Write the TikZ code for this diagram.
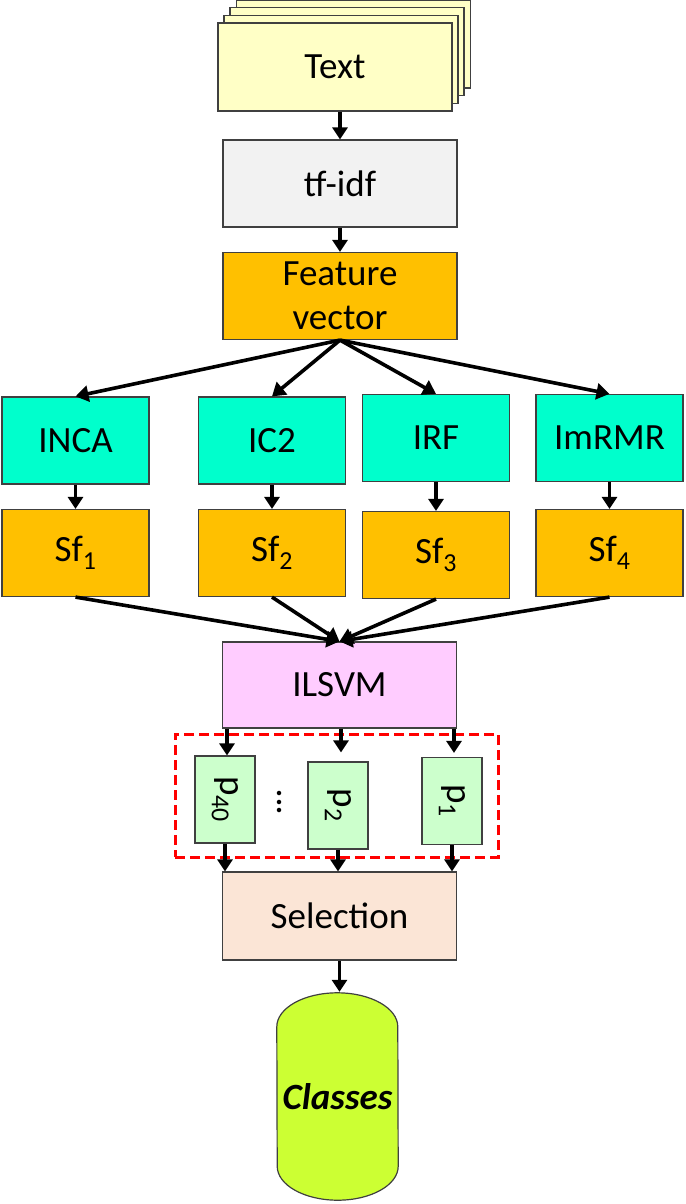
\documentclass[tikz,border=0pt]{standalone}
\usepackage{fontspec}
\usepackage{graphicx}
\setmainfont{Carlito}
\usetikzlibrary{arrows.meta}
\definecolor{cText}{HTML}{FFFFC6}
\definecolor{cTfidf}{HTML}{F2F2F2}
\definecolor{cOrange}{HTML}{FFC000}
\definecolor{cAqua}{HTML}{00FFCC}
\definecolor{cPink}{HTML}{FFCCFF}
\definecolor{cP}{HTML}{CCFFCC}
\definecolor{cSel}{HTML}{FBE5D6}
\definecolor{cClass}{HTML}{CCFF33}
\definecolor{bordergray}{HTML}{404040}
\begin{document}
\begin{tikzpicture}[x=1pt,y=-1pt,
  box/.style={draw=bordergray,line width=1.2pt,minimum width=234pt,minimum height=87pt,inner sep=0pt,font=\fontsize{37}{44}\selectfont,align=center},
  sbox/.style={box,minimum width=147pt},
  pbox/.style={box,fill=cP,minimum width=60pt,minimum height=87pt},
  arr/.style={line width=3.2pt,-{Triangle[width=15pt,length=12pt]}},
  fan/.style={line width=3.6pt,-{Triangle[width=16pt,length=13pt]}},
]
\useasboundingbox (0,0) rectangle (685,1204);
% stacked text documents
\node[box,fill=cText,minimum height=88pt] (text3) at (353.5,44) {};
\node[box,fill=cText,minimum height=88pt] (text2) at (347,51.5) {};
\node[box,fill=cText,minimum height=88pt] (text1) at (341,59.5) {};
\node[box,fill=cText,minimum height=88pt] (text) at (335,67) {Text};
\node[box,fill=cTfidf] (tfidf) at (340,183.5) {tf-idf};
\node[box,fill=cOrange] (fv) at (340,296) {Feature\\vector};
% selectors
\node[sbox,fill=cAqua] (inca) at (75.5,440.5) {INCA};
\node[sbox,fill=cAqua] (ic2) at (272,440.5) {IC2};
\node[sbox,fill=cAqua] (irf) at (436,438) {IRF};
\node[sbox,fill=cAqua] (imrmr) at (609.5,438) {ImRMR};
\node[sbox,fill=cOrange] (sf1) at (75.5,553) {Sf\textsubscript{1}};
\node[sbox,fill=cOrange] (sf2) at (272,553) {Sf\textsubscript{2}};
\node[sbox,fill=cOrange] (sf3) at (436,555) {Sf\textsubscript{3}};
\node[sbox,fill=cOrange] (sf4) at (609.5,553) {Sf\textsubscript{4}};
\node[box,fill=cPink,minimum height=86pt] (ilsvm) at (339.5,685) {ILSVM};
% dashed group
\node[draw=red,line width=3pt,dash pattern=on 10pt off 5pt,minimum width=323pt,minimum height=123pt,inner sep=0pt] (grp) at (336.5,795.5) {};
\node[pbox] (p40) at (225,799.5) {\rotatebox{-90}{p\textsubscript{40}}};
\node[pbox] (p2) at (338,805.5) {\rotatebox{-90}{p\textsubscript{2}}};
\node[pbox] (p1) at (452,801) {\rotatebox{-90}{p\textsubscript{1}}};
\node[font=\fontsize{30}{30}\selectfont\bfseries,inner sep=0pt] (dots) at (280,802) {\rotatebox{-90}{...}};
\node[box,fill=cSel,minimum height=88pt] (sel) at (339.5,916) {Selection};
% cylinder
\node[minimum width=121pt,minimum height=207pt,inner sep=0pt] (classes) at (337.5,1096.5) {};
\draw[draw=bordergray,line width=1.2pt,fill=cClass]
  ([yshift=-34pt]classes.north west) arc[start angle=180,end angle=0,x radius=60.5pt,y radius=34pt]
  -- ([yshift=34pt]classes.south east) arc[start angle=0,end angle=-180,x radius=60.5pt,y radius=34pt]
  -- cycle;
\node[font=\fontsize{37}{40}\selectfont\bfseries\itshape] at (classes.center) {Classes};
% connectors
\draw[arr] (tfidf.north |- text.south) -- (tfidf.north);
\draw[arr] (tfidf.south) -- (fv.north);
\draw[fan] (fv.south) -- (inca.north);
\draw[fan] (fv.south) -- (ic2.north);
\draw[fan] (fv.south) -- (irf.north);
\draw[fan] (fv.south) -- (imrmr.north);
\draw[arr] (inca.south) -- (sf1.north);
\draw[arr] (ic2.south) -- (sf2.north);
\draw[arr] (irf.south) -- (sf3.north);
\draw[arr] (imrmr.south) -- (sf4.north);
\draw[fan] (sf1.south) -- (ilsvm.north);
\draw[fan] (sf2.south) -- (ilsvm.north);
\draw[fan] (sf3.south) -- (ilsvm.north);
\draw[fan] (sf4.south) -- (ilsvm.north);
\draw[arr] ([xshift=2pt]p40.north |- ilsvm.south) -- ([xshift=2pt]p40.north);
\draw[arr] ([xshift=3pt]p2.north |- ilsvm.south) -- ([xshift=3pt,yshift=9pt]p2.north);
\draw[arr] ([xshift=2pt]p1.north |- ilsvm.south) -- ([xshift=2pt,yshift=4pt]p1.north);
\draw[arr] (p40.south) -- (p40.south |- sel.north);
\draw[arr] (p2.south) -- (p2.south |- sel.north);
\draw[arr] (p1.south) -- (p1.south |- sel.north);
\draw[arr] (sel.south) -- ([yshift=1pt]sel.south |- classes.north);
\end{tikzpicture}
\end{document}
